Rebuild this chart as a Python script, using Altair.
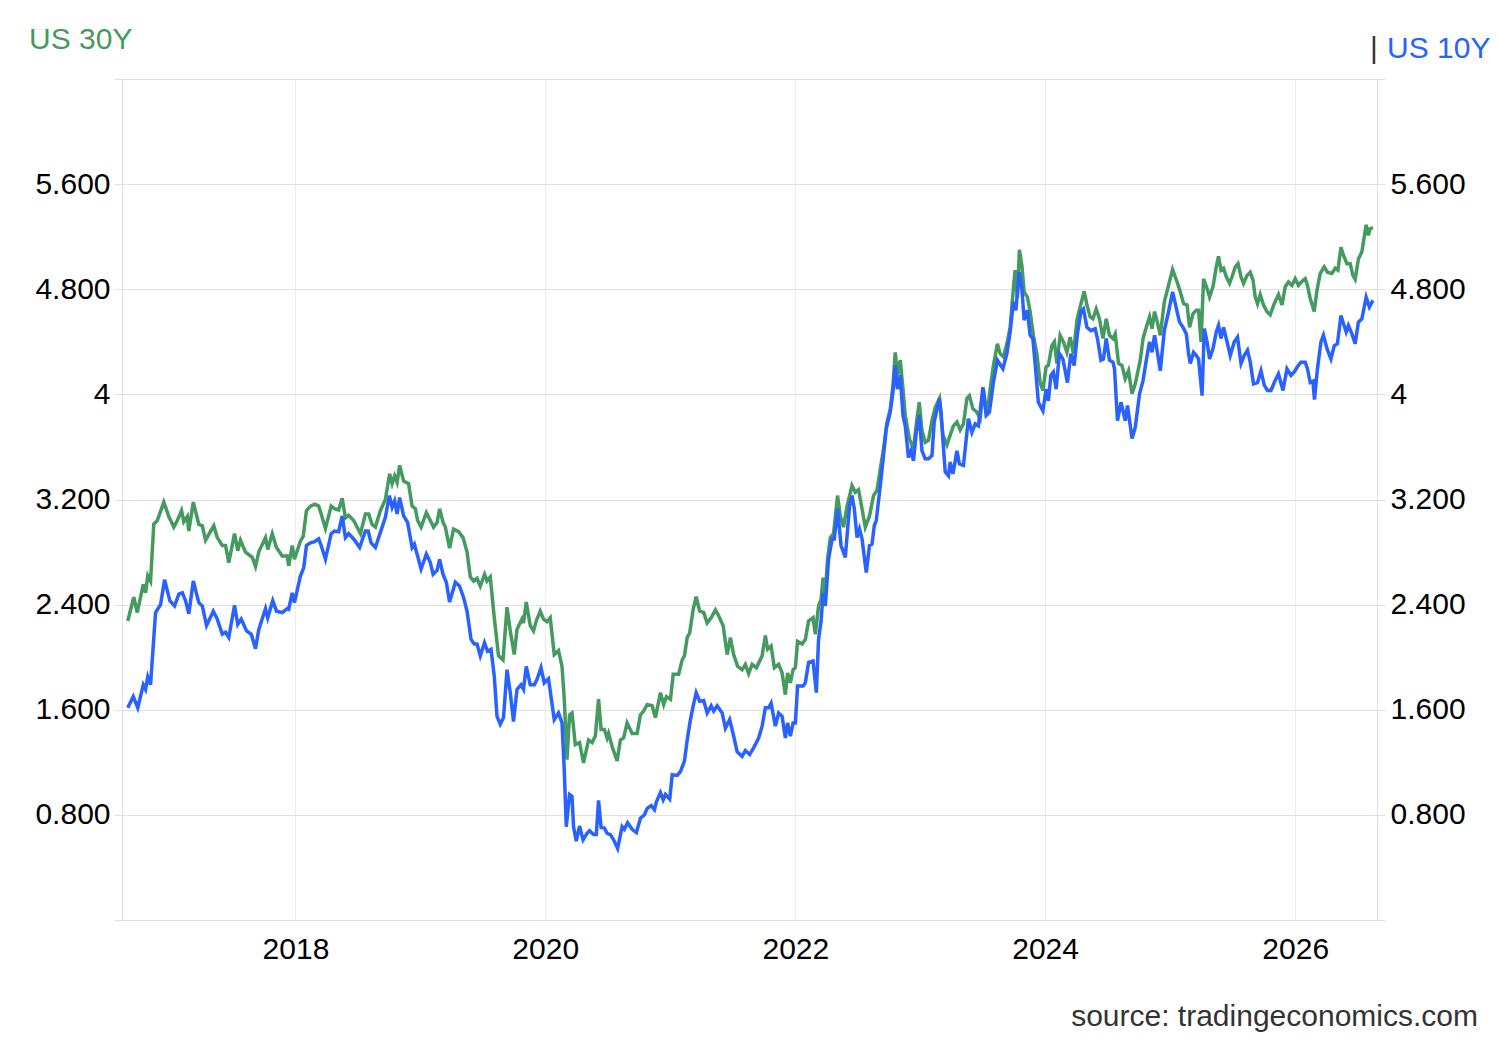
import altair as alt
import pandas as pd

# ---- data (time as decimal year, yield in %) ----
US30_T = [
    2016.658, 2016.706, 2016.734, 2016.782, 2016.800, 2016.818, 2016.840, 2016.866, 2016.894, 2016.946,
    2016.986, 2017.026, 2017.054, 2017.088, 2017.106, 2017.134, 2017.146, 2017.182, 2017.226, 2017.254,
    2017.280, 2017.346, 2017.374, 2017.414, 2017.440, 2017.466, 2017.512, 2017.538, 2017.560, 2017.600,
    2017.654, 2017.680, 2017.706, 2017.760, 2017.778, 2017.814, 2017.848, 2017.894, 2017.934, 2017.946,
    2017.974, 2017.992, 2018.040, 2018.062, 2018.088, 2018.120, 2018.154, 2018.186, 2018.206, 2018.240,
    2018.286, 2018.312, 2018.346, 2018.374, 2018.400, 2018.426, 2018.466, 2018.520, 2018.560, 2018.586,
    2018.614, 2018.640, 2018.680, 2018.720, 2018.754, 2018.774, 2018.794, 2018.814, 2018.834, 2018.866,
    2018.906, 2018.934, 2018.960, 2018.978, 2019.006, 2019.048, 2019.080, 2019.106, 2019.134, 2019.154,
    2019.182, 2019.200, 2019.234, 2019.266, 2019.306, 2019.342, 2019.374, 2019.400, 2019.426, 2019.454,
    2019.480, 2019.514, 2019.534, 2019.560, 2019.592, 2019.626, 2019.662, 2019.694, 2019.720, 2019.752,
    2019.774, 2019.814, 2019.826, 2019.848, 2019.880, 2019.906, 2019.928, 2019.960, 2019.986, 2020.014,
    2020.040, 2020.072, 2020.106, 2020.134, 2020.152, 2020.174, 2020.194, 2020.214, 2020.240, 2020.274,
    2020.306, 2020.346, 2020.374, 2020.400, 2020.426, 2020.446, 2020.472, 2020.494, 2020.506, 2020.534,
    2020.574, 2020.600, 2020.626, 2020.654, 2020.694, 2020.734, 2020.760, 2020.786, 2020.814, 2020.854,
    2020.880, 2020.920, 2020.946, 2020.968, 2021.000, 2021.022, 2021.066, 2021.094, 2021.112, 2021.134,
    2021.154, 2021.182, 2021.206, 2021.234, 2021.266, 2021.294, 2021.326, 2021.360, 2021.386, 2021.422,
    2021.454, 2021.480, 2021.506, 2021.538, 2021.574, 2021.600, 2021.626, 2021.654, 2021.688, 2021.734,
    2021.760, 2021.778, 2021.806, 2021.832, 2021.866, 2021.894, 2021.920, 2021.938, 2021.960, 2021.982,
    2022.000, 2022.018, 2022.054, 2022.080, 2022.106, 2022.142, 2022.160, 2022.186, 2022.206, 2022.222,
    2022.240, 2022.258, 2022.280, 2022.306, 2022.338, 2022.360, 2022.386, 2022.414, 2022.454, 2022.480,
    2022.506, 2022.534, 2022.560, 2022.594, 2022.626, 2022.654, 2022.680, 2022.706, 2022.734, 2022.760,
    2022.782, 2022.800, 2022.818, 2022.840, 2022.862, 2022.880, 2022.914, 2022.946, 2022.974, 2022.992,
    2023.014, 2023.040, 2023.066, 2023.094, 2023.120, 2023.154, 2023.182, 2023.214, 2023.240, 2023.266,
    2023.294, 2023.320, 2023.346, 2023.374, 2023.394, 2023.422, 2023.454, 2023.480, 2023.506, 2023.534,
    2023.560, 2023.586, 2023.618, 2023.640, 2023.666, 2023.694, 2023.720, 2023.746, 2023.760, 2023.778,
    2023.794, 2023.814, 2023.832, 2023.858, 2023.880, 2023.906, 2023.934, 2023.960, 2023.982, 2024.008,
    2024.026, 2024.054, 2024.074, 2024.094, 2024.120, 2024.146, 2024.174, 2024.200, 2024.226, 2024.254,
    2024.280, 2024.312, 2024.334, 2024.360, 2024.382, 2024.408, 2024.434, 2024.462, 2024.488, 2024.514,
    2024.542, 2024.560, 2024.586, 2024.614, 2024.640, 2024.666, 2024.694, 2024.720, 2024.760, 2024.782,
    2024.808, 2024.834, 2024.854, 2024.874, 2024.898, 2024.920, 2024.952, 2024.986, 2025.018, 2025.054,
    2025.080, 2025.106, 2025.134, 2025.154, 2025.182, 2025.208, 2025.226, 2025.246, 2025.266, 2025.294,
    2025.314, 2025.342, 2025.368, 2025.386, 2025.406, 2025.426, 2025.448, 2025.474, 2025.494, 2025.520,
    2025.542, 2025.566, 2025.586, 2025.614, 2025.640, 2025.662, 2025.680, 2025.698, 2025.720, 2025.746,
    2025.774, 2025.800, 2025.832, 2025.866, 2025.894, 2025.920, 2025.946, 2025.974, 2026.000, 2026.026,
    2026.054, 2026.080, 2026.098, 2026.120, 2026.152, 2026.174, 2026.200, 2026.232, 2026.258, 2026.294,
    2026.320, 2026.342, 2026.366, 2026.386, 2026.414, 2026.440, 2026.462, 2026.480, 2026.506, 2026.534,
    2026.568, 2026.586, 2026.600, 2026.622,
]
US30_V = [
    2.275, 2.456, 2.34, 2.555, 2.49, 2.62, 2.58, 3.013, 3.04, 3.18,
    3.07, 2.99, 3.04, 3.115, 3.03, 3.07, 2.96, 3.18, 3.01, 3.0,
    2.89, 3.0, 2.91, 2.85, 2.85, 2.72, 2.94, 2.81, 2.89, 2.80,
    2.76, 2.69, 2.80, 2.91, 2.82, 2.94, 2.835, 2.77, 2.77, 2.695,
    2.85, 2.745, 2.885, 2.92, 3.115, 3.15, 3.165, 3.15, 3.09, 2.98,
    3.15, 3.13, 3.12, 3.21, 3.06, 3.08, 3.04, 2.94, 3.09, 3.09,
    3.01, 2.99, 3.115, 3.20, 3.395, 3.32, 3.38, 3.33, 3.46, 3.34,
    3.32, 3.15, 3.13, 3.04, 2.99, 3.10, 3.04, 2.99, 3.025, 3.13,
    3.025, 2.99, 2.83, 2.975, 2.955, 2.91, 2.80, 2.61, 2.58, 2.60,
    2.54, 2.63, 2.58, 2.61, 2.30, 2.01, 1.98, 2.38, 2.20, 2.02,
    2.21, 2.29, 2.26, 2.42, 2.24, 2.20, 2.275, 2.35, 2.29, 2.27,
    2.30, 2.02, 2.05, 1.93, 1.68, 1.22, 1.56, 1.575, 1.335, 1.35,
    1.195, 1.37, 1.35, 1.40, 1.68, 1.45, 1.45, 1.385, 1.42, 1.32,
    1.21, 1.37, 1.385, 1.50, 1.42, 1.42, 1.56, 1.59, 1.64, 1.63,
    1.54, 1.73, 1.64, 1.70, 1.68, 1.87, 1.87, 1.98, 2.01, 2.15,
    2.185, 2.365, 2.46, 2.35, 2.34, 2.26, 2.30, 2.36, 2.315, 2.24,
    2.02, 2.15, 2.02, 1.93, 1.905, 1.945, 1.875, 1.945, 1.92, 2.01,
    2.165, 2.06, 2.085, 1.92, 1.945, 1.88, 1.715, 1.88, 1.805, 1.905,
    1.92, 2.12, 2.10, 2.135, 2.275, 2.30, 2.175, 2.39, 2.44, 2.605,
    2.49, 2.745, 2.91, 2.94, 3.23, 3.075, 2.99, 3.15, 3.305, 3.255,
    3.275, 3.13, 2.99, 3.075, 3.23, 3.27, 3.43, 3.585, 3.79, 3.89,
    4.07, 4.32, 4.145, 4.26, 4.04, 3.84, 3.66, 3.585, 3.815, 3.94,
    3.725, 3.635, 3.65, 3.80, 3.90, 3.97, 3.69, 3.615, 3.69, 3.76,
    3.79, 3.73, 3.775, 3.97, 3.99, 3.89, 3.865, 3.815, 4.04, 3.84,
    4.04, 4.22, 4.385, 4.31, 4.285, 4.385, 4.51, 4.805, 4.945, 4.74,
    5.10, 4.98, 4.78, 4.74, 4.63, 4.45, 4.31, 4.09, 4.03, 4.21,
    4.22, 4.37, 4.40, 4.235, 4.45, 4.40, 4.32, 4.435, 4.31, 4.565,
    4.665, 4.785, 4.68, 4.59, 4.575, 4.65, 4.575, 4.425, 4.575, 4.45,
    4.425, 4.46, 4.235, 4.22, 4.12, 4.18, 4.005, 4.08, 4.26, 4.425,
    4.51, 4.59, 4.50, 4.63, 4.54, 4.45, 4.705, 4.83, 4.95, 4.855,
    4.78, 4.69, 4.68, 4.51, 4.615, 4.64, 4.64, 4.40, 4.88, 4.805,
    4.74, 4.82, 4.97, 5.05, 4.945, 4.96, 4.895, 4.845, 4.895, 4.97,
    4.995, 4.895, 4.845, 4.905, 4.93, 4.87, 4.74, 4.69, 4.76, 4.68,
    4.63, 4.605, 4.69, 4.76, 4.68, 4.82, 4.855, 4.83, 4.88, 4.83,
    4.86, 4.88, 4.83, 4.73, 4.63, 4.79, 4.92, 4.97, 4.93, 4.92,
    4.96, 4.945, 5.12, 5.06, 4.995, 4.995, 4.905, 4.875, 5.03, 5.085,
    5.29, 5.21, 5.26, 5.27,
]
US10_T = [
    2016.658, 2016.702, 2016.738, 2016.782, 2016.800, 2016.818, 2016.840, 2016.880, 2016.920, 2016.952,
    2016.994, 2017.032, 2017.066, 2017.094, 2017.120, 2017.146, 2017.182, 2017.226, 2017.254, 2017.288,
    2017.342, 2017.374, 2017.414, 2017.440, 2017.466, 2017.512, 2017.538, 2017.566, 2017.608, 2017.646,
    2017.680, 2017.706, 2017.760, 2017.778, 2017.818, 2017.848, 2017.894, 2017.934, 2017.946, 2017.974,
    2017.992, 2018.040, 2018.066, 2018.088, 2018.120, 2018.154, 2018.186, 2018.206, 2018.240, 2018.286,
    2018.312, 2018.346, 2018.374, 2018.400, 2018.426, 2018.466, 2018.514, 2018.560, 2018.582, 2018.606,
    2018.640, 2018.680, 2018.720, 2018.752, 2018.774, 2018.794, 2018.814, 2018.834, 2018.866, 2018.898,
    2018.934, 2018.952, 2018.978, 2019.006, 2019.048, 2019.080, 2019.102, 2019.134, 2019.154, 2019.182,
    2019.208, 2019.234, 2019.280, 2019.314, 2019.346, 2019.374, 2019.406, 2019.432, 2019.454, 2019.480,
    2019.514, 2019.538, 2019.566, 2019.592, 2019.614, 2019.640, 2019.666, 2019.694, 2019.720, 2019.746,
    2019.774, 2019.806, 2019.826, 2019.848, 2019.880, 2019.912, 2019.934, 2019.966, 2019.992, 2020.026,
    2020.072, 2020.106, 2020.134, 2020.152, 2020.168, 2020.194, 2020.214, 2020.226, 2020.248, 2020.274,
    2020.302, 2020.334, 2020.354, 2020.386, 2020.408, 2020.426, 2020.446, 2020.472, 2020.494, 2020.520,
    2020.546, 2020.578, 2020.614, 2020.632, 2020.658, 2020.694, 2020.728, 2020.760, 2020.792, 2020.814,
    2020.846, 2020.872, 2020.888, 2020.920, 2020.942, 2020.960, 2020.994, 2021.014, 2021.054, 2021.080,
    2021.112, 2021.134, 2021.160, 2021.182, 2021.206, 2021.234, 2021.266, 2021.294, 2021.326, 2021.346,
    2021.374, 2021.414, 2021.440, 2021.474, 2021.506, 2021.534, 2021.574, 2021.600, 2021.634, 2021.666,
    2021.706, 2021.734, 2021.760, 2021.786, 2021.806, 2021.840, 2021.866, 2021.894, 2021.920, 2021.938,
    2021.960, 2021.982, 2022.000, 2022.018, 2022.062, 2022.080, 2022.106, 2022.142, 2022.168, 2022.186,
    2022.206, 2022.222, 2022.240, 2022.266, 2022.294, 2022.312, 2022.338, 2022.366, 2022.400, 2022.434,
    2022.454, 2022.472, 2022.494, 2022.514, 2022.534, 2022.568, 2022.594, 2022.614, 2022.632, 2022.648,
    2022.680, 2022.706, 2022.728, 2022.760, 2022.782, 2022.800, 2022.818, 2022.840, 2022.862, 2022.880,
    2022.906, 2022.926, 2022.946, 2022.968, 2022.992, 2023.014, 2023.040, 2023.066, 2023.094, 2023.112,
    2023.154, 2023.166, 2023.200, 2023.226, 2023.240, 2023.262, 2023.294, 2023.314, 2023.346, 2023.386,
    2023.414, 2023.440, 2023.466, 2023.502, 2023.528, 2023.554, 2023.586, 2023.618, 2023.662, 2023.694,
    2023.720, 2023.746, 2023.766, 2023.792, 2023.814, 2023.832, 2023.858, 2023.880, 2023.902, 2023.920,
    2023.946, 2023.982, 2024.008, 2024.026, 2024.046, 2024.066, 2024.088, 2024.114, 2024.142, 2024.178,
    2024.206, 2024.232, 2024.258, 2024.286, 2024.306, 2024.334, 2024.366, 2024.400, 2024.418, 2024.446,
    2024.466, 2024.488, 2024.514, 2024.542, 2024.554, 2024.578, 2024.606, 2024.640, 2024.658, 2024.694,
    2024.720, 2024.754, 2024.782, 2024.814, 2024.834, 2024.854, 2024.874, 2024.898, 2024.920, 2024.952,
    2024.986, 2025.018, 2025.054, 2025.074, 2025.102, 2025.128, 2025.146, 2025.160, 2025.186, 2025.208,
    2025.226, 2025.254, 2025.272, 2025.294, 2025.314, 2025.342, 2025.368, 2025.386, 2025.406, 2025.426,
    2025.448, 2025.480, 2025.512, 2025.538, 2025.566, 2025.592, 2025.618, 2025.640, 2025.666, 2025.698,
    2025.726, 2025.752, 2025.778, 2025.806, 2025.832, 2025.866, 2025.902, 2025.934, 2025.966, 2025.992,
    2026.018, 2026.046, 2026.080, 2026.098, 2026.120, 2026.142, 2026.154, 2026.178, 2026.206, 2026.226,
    2026.254, 2026.286, 2026.312, 2026.338, 2026.366, 2026.386, 2026.408, 2026.426, 2026.454, 2026.480,
    2026.506, 2026.534, 2026.568, 2026.594, 2026.622,
]
US10_V = [
    1.615, 1.70, 1.615, 1.79, 1.755, 1.85, 1.79, 2.34, 2.40, 2.59,
    2.43, 2.39, 2.48, 2.49, 2.43, 2.33, 2.58, 2.415, 2.39, 2.24,
    2.35, 2.29, 2.175, 2.19, 2.15, 2.395, 2.25, 2.29, 2.20, 2.175,
    2.065, 2.21, 2.37, 2.30, 2.43, 2.35, 2.34, 2.37, 2.365, 2.49,
    2.415, 2.62, 2.68, 2.85, 2.87, 2.88, 2.90, 2.85, 2.745, 2.94,
    2.96, 2.955, 3.075, 2.91, 2.94, 2.90, 2.835, 2.96, 2.96, 2.87,
    2.835, 2.95, 3.065, 3.23, 3.14, 3.19, 3.09, 3.215, 3.075, 3.025,
    2.835, 2.86, 2.77, 2.67, 2.785, 2.72, 2.63, 2.66, 2.745, 2.63,
    2.57, 2.42, 2.57, 2.54, 2.455, 2.35, 2.135, 2.10, 2.10, 2.01,
    2.11, 2.045, 2.06, 1.855, 1.55, 1.49, 1.54, 1.905, 1.73, 1.51,
    1.755, 1.79, 1.755, 1.93, 1.79, 1.79, 1.83, 1.92, 1.805, 1.835,
    1.525, 1.575, 1.50, 1.14, 0.71, 0.955, 0.94, 0.71, 0.60, 0.715,
    0.61, 0.66, 0.68, 0.65, 0.65, 0.91, 0.705, 0.70, 0.66, 0.65,
    0.61, 0.545, 0.71, 0.69, 0.74, 0.69, 0.665, 0.775, 0.80, 0.85,
    0.87, 0.84, 0.90, 0.97, 0.915, 0.955, 0.92, 1.105, 1.10, 1.13,
    1.21, 1.37, 1.525, 1.63, 1.73, 1.665, 1.67, 1.575, 1.63, 1.59,
    1.63, 1.575, 1.46, 1.525, 1.40, 1.28, 1.245, 1.29, 1.26, 1.31,
    1.385, 1.475, 1.615, 1.615, 1.65, 1.475, 1.575, 1.55, 1.385, 1.50,
    1.40, 1.50, 1.50, 1.78, 1.78, 1.805, 1.96, 1.97, 1.73, 2.135,
    2.275, 2.49, 2.39, 2.745, 2.90, 2.90, 3.13, 2.85, 2.76, 3.15,
    3.23, 3.13, 2.91, 2.975, 2.90, 2.645, 2.85, 2.86, 3.00, 3.04,
    3.305, 3.535, 3.74, 3.865, 4.02, 4.22, 4.04, 4.145, 3.84, 3.76,
    3.52, 3.57, 3.495, 3.71, 3.84, 3.57, 3.51, 3.51, 3.535, 3.79,
    3.97, 3.865, 3.41, 3.38, 3.485, 3.395, 3.57, 3.47, 3.46, 3.815,
    3.71, 3.775, 3.76, 4.055, 3.84, 3.865, 4.09, 4.26, 4.195, 4.31,
    4.475, 4.705, 4.64, 4.93, 4.805, 4.565, 4.64, 4.45, 4.425, 4.235,
    3.94, 3.875, 4.04, 3.95, 4.145, 4.17, 4.04, 4.31, 4.27, 4.09,
    4.31, 4.22, 4.46, 4.63, 4.65, 4.51, 4.485, 4.50, 4.425, 4.26,
    4.27, 4.425, 4.26, 4.245, 4.195, 3.80, 3.94, 3.80, 3.915, 3.665,
    3.75, 4.005, 4.105, 4.295, 4.40, 4.32, 4.45, 4.31, 4.18, 4.485,
    4.63, 4.78, 4.63, 4.55, 4.51, 4.46, 4.31, 4.235, 4.32, 4.295,
    4.27, 3.99, 4.50, 4.40, 4.27, 4.35, 4.475, 4.525, 4.425, 4.51,
    4.425, 4.295, 4.40, 4.435, 4.235, 4.295, 4.335, 4.245, 4.08, 4.09,
    4.18, 4.07, 4.03, 4.03, 4.09, 4.155, 4.03, 4.195, 4.145, 4.17,
    4.21, 4.245, 4.245, 4.195, 4.09, 4.10, 3.96, 4.195, 4.40, 4.45,
    4.35, 4.27, 4.37, 4.385, 4.60, 4.54, 4.475, 4.525, 4.46, 4.385,
    4.55, 4.575, 4.74, 4.665, 4.715,
]

Y_TICKS = [0, 0.8, 1.6, 2.4, 3.2, 4.0, 4.8, 5.6, 6.4]
Y_DOMAIN = [0, 6.4]
X_TICK_YEARS = [2018, 2020, 2022, 2024, 2026]

TITLE_30 = "US 30Y"
TITLE_10 = "US 10Y"
SOURCE = "source: tradingeconomics.com"

GREEN = "#459a60"
BLUE = "#2962ff"
FONT = "Liberation Sans"
FS = 30

assert len(US30_T) == len(US30_V)
assert len(US10_T) == len(US10_V)


def to_ts(y):
    yr = int(y)
    a = pd.Timestamp(year=yr, month=1, day=1)
    b = pd.Timestamp(year=yr + 1, month=1, day=1)
    return (a + (b - a) * (y - yr)).floor("h")


df30 = pd.DataFrame({"date": [to_ts(t) for t in US30_T], "value": US30_V})
df10 = pd.DataFrame({"date": [to_ts(t) for t in US10_T], "value": US10_V})

LBL = ("abs(datum.value) < 0.01 || abs(datum.value - 6.4) < 0.01 ? '' : "
       "(abs(datum.value - 4) < 0.01 ? '4' : format(datum.value, '.3f'))")

x_enc = alt.X(
    "date:T",
    scale=alt.Scale(domain=[alt.DateTime(year=2016, month=8, date=12),
                            alt.DateTime(year=2026, month=8, date=28)]),
    axis=alt.Axis(
        values=[alt.DateTime(year=y, month=1, date=1) for y in X_TICK_YEARS],
        format="%Y", title=None, grid=True, gridColor="#e9edf2",
        ticks=False, tickSize=0, domain=False, labelPadding=14,
        labelFont=FONT, labelFontSize=FS, labelColor="#000000",
        labelFlush=False, labelOverlap=False,
    ),
)


def y_enc(orient, grid, pad):
    return alt.Y(
        "value:Q",
        scale=alt.Scale(domain=Y_DOMAIN, nice=False, zero=False),
        axis=alt.Axis(
            orient=orient, values=Y_TICKS, labelExpr=LBL, title=None,
            grid=grid, gridColor="#e1e1e1", tickColor="#e1e1e1", tickSize=8,
            domainColor="#e1e1e1", labelPadding=pad, labelFont=FONT,
            labelFontSize=FS, labelColor="#000000", labelOverlap=False,
        ),
    )


green = alt.Chart(df30).mark_line(color=GREEN, strokeWidth=3.5).encode(
    x=x_enc, y=y_enc("left", True, 4))
blue = alt.Chart(df10).mark_line(color=BLUE, strokeWidth=3.5).encode(
    x=x_enc, y=y_enc("right", False, 5))


def label(txt, color, xv, yv, align):
    return alt.Chart(pd.DataFrame({"t": [txt]})).mark_text(
        align=align, baseline="alphabetic", font=FONT, fontSize=FS, color=color
    ).encode(text="t:N", x=alt.value(xv), y=alt.value(yv))


t30 = label(TITLE_30, GREEN, -93, -30, "left")
pipe = label("|", "#333333", 1252, -21, "center")
t10 = label(TITLE_10, BLUE, 1265, -21, "left")
src = label(SOURCE, "#333333", 1356, 947, "right")

chart = (
    alt.layer(green, blue, t30, pipe, t10, src)
    .resolve_scale(y="independent")
    .properties(
        width=1255, height=841,
        autosize=alt.AutoSizeParams(type="none"),
        padding={"left": 114, "top": 71, "right": 115, "bottom": 112},
        background="white",
    )
    .configure_view(stroke="transparent")
)

chart.save("out.html", embed_options={"renderer": "svg", "actions": False})
